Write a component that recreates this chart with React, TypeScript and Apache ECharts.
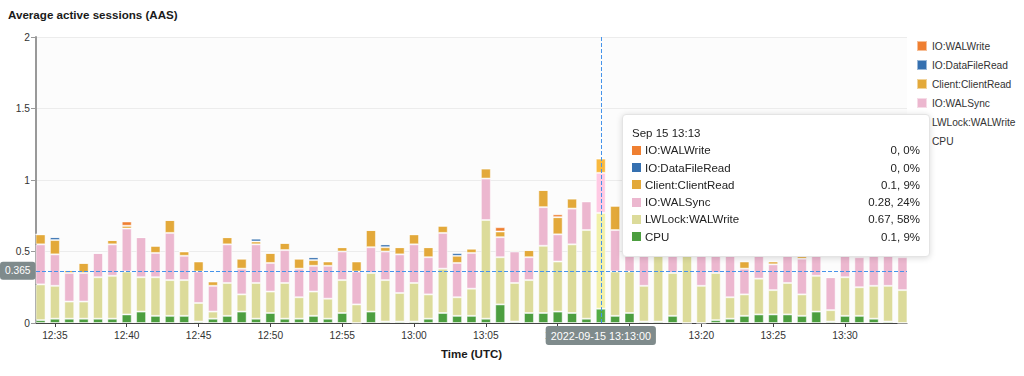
import React, { useEffect, useRef } from 'react';
import * as echarts from 'echarts';

const times = [
  '12:34', '12:35', '12:36', '12:37', '12:38', '12:39', '12:40', '12:41', '12:42', '12:43',
  '12:44', '12:45', '12:46', '12:47', '12:48', '12:49', '12:50', '12:51', '12:52', '12:53',
  '12:54', '12:55', '12:56', '12:57', '12:58', '12:59', '13:00', '13:01', '13:02', '13:03',
  '13:04', '13:05', '13:06', '13:07', '13:08', '13:09', '13:10', '13:11', '13:12', '13:13',
  '13:14', '13:15', '13:16', '13:17', '13:18', '13:19', '13:20', '13:21', '13:22', '13:23',
  '13:24', '13:25', '13:26', '13:27', '13:28', '13:29', '13:30', '13:31', '13:32', '13:33', '13:34',
];

const tickLabels = [
  '12:35', '12:40', '12:45', '12:50', '12:55', '13:00', '13:05', '13:10', '13:15', '13:20', '13:25', '13:30',
];

const cpu = [
  0.02, 0.03, 0.03, 0.03, 0.03, 0.03, 0.06, 0.08, 0.05, 0.05,
  0.05, 0.01, 0.03, 0.05, 0.08, 0.03, 0.07, 0.03, 0.03, 0.05,
  0.03, 0.07, 0, 0.08, 0.01, 0.01, 0.01, 0.03, 0.07, 0.05,
  0.05, 0.03, 0.13, 0.01, 0.07, 0.07, 0.08, 0.07, 0.03, 0.1,
  0.05, 0.07, 0.01, 0.01, 0.05, 0, 0, 0.02, 0.03, 0.05,
  0.06, 0.06, 0.06, 0.05, 0.08, 0.01, 0.05, 0.05, 0.03, 0.01, 0,
];

const lwlockWalWrite = [
  0.25, 0.23, 0.12, 0.12, 0.29, 0.3, 0.3, 0.24, 0.27, 0.25,
  0.25, 0.13, 0.05, 0.23, 0.12, 0.25, 0.15, 0.25, 0.15, 0.17,
  0.14, 0.23, 0.13, 0.27, 0.29, 0.2, 0.27, 0.17, 0.31, 0.13,
  0.19, 0.69, 0.33, 0.27, 0.23, 0.47, 0.35, 0.48, 0.62, 0.67,
  0.31, 0.29, 0.25, 0.52, 0.3, 0.55, 0.26, 0.33, 0.15, 0.15,
  0.25, 0.17, 0.22, 0.15, 0.25, 0.08, 0.27, 0.2, 0.23, 0.25, 0.23,
];

const ioWalSync = [
  0.28, 0.22, 0.2, 0.2, 0.17, 0.22, 0.3, 0.28, 0.17, 0.33,
  0.17, 0.22, 0.18, 0.27, 0.18, 0.27, 0.2, 0.23, 0.2, 0.18,
  0.23, 0.2, 0.23, 0.18, 0.2, 0.27, 0.27, 0.26, 0.25, 0.24,
  0.25, 0.29, 0.14, 0.22, 0.16, 0.27, 0.19, 0.25, 0.2, 0.28,
  0.29, 0.2, 0.3, 0.1, 0.25, 0.08, 0.3, 0.25, 0.35, 0.18,
  0.3, 0.18, 0.2, 0.25, 0.3, 0.23, 0.25, 0.21, 0.28, 0.3, 0.23,
];

const clientRead = [
  0.07, 0.1, 0.02, 0.07, 0, 0.03, 0.02, 0, 0.05, 0.09,
  0.03, 0.07, 0.03, 0.05, 0.07, 0.02, 0.07, 0.05, 0.07, 0.04,
  0.03, 0.03, 0.07, 0.12, 0.03, 0.05, 0.07, 0.07, 0.05, 0.05,
  0.03, 0.07, 0.04, 0.01, 0.05, 0.12, 0.12, 0.07, 0, 0.1,
  0.17, 0.06, 0, 0.02, 0, 0, 0, 0, 0, 0.05,
  0, 0.02, 0.1, 0.08, 0, 0, 0, 0.06, 0, 0, 0.04,
];

const dataFileRead = [
  0, 0.02, 0, 0, 0, 0, 0, 0, 0, 0,
  0, 0, 0, 0, 0, 0.02, 0, 0, 0, 0.02,
  0, 0, 0, 0, 0.02, 0, 0, 0, 0, 0.02,
  0, 0, 0, 0, 0, 0, 0, 0, 0, 0,
  0, 0, 0, 0, 0, 0, 0, 0, 0, 0,
  0, 0, 0, 0, 0, 0, 0, 0, 0, 0, 0,
];

const walWrite = [
  0, 0, 0, 0, 0, 0, 0.03, 0, 0, 0,
  0, 0, 0, 0, 0, 0, 0, 0, 0, 0,
  0, 0, 0, 0, 0, 0, 0, 0, 0, 0,
  0, 0, 0.03, 0, 0, 0, 0.02, 0, 0, 0,
  0, 0, 0, 0, 0, 0, 0, 0, 0, 0,
  0, 0, 0, 0, 0, 0, 0, 0, 0, 0, 0,
];

const seriesNames = ['CPU', 'LWLock:WALWrite', 'IO:WALSync', 'Client:ClientRead', 'IO:DataFileRead', 'IO:WALWrite'];
const seriesColors = ['#4c9e3f', '#dcdb9a', '#ecb7cf', '#e3a93a', '#3570b0', '#ef7f31'];
const seriesValues = [cpu, lwlockWalWrite, ioWalSync, clientRead, dataFileRead, walWrite];

const pointerTime = '13:13';
const pointerValue = 0.365;

const FONT = '"Liberation Sans", Arial, Helvetica, sans-serif';
const POINTER_BLUE = '#4593ea';
const MONTHS = ['Jan', 'Feb', 'Mar', 'Apr', 'May', 'Jun', 'Jul', 'Aug', 'Sep', 'Oct', 'Nov', 'Dec'];
const pad2 = (n: number) => (n < 10 ? '0' + n : '' + n);
const toTs = (t: string) => {
  const [h, m] = t.split(':').map(Number);
  return Date.UTC(2022, 8, 15, h, m);
};

export default function App() {
  const ref = useRef<HTMLDivElement>(null);
  useEffect(() => {
    if (!ref.current) return;
    const chart = echarts.init(ref.current, undefined, { renderer: 'svg' });
    // data items are [value, timestamp]; encode maps the timestamp to x so the stack runs on y
    const series = seriesNames.map((name, si) => ({
      name,
      type: 'bar',
      stack: 'aas',
      barWidth: 10,
      encode: { x: 1, y: 0 },
      itemStyle: { color: seriesColors[si], borderColor: 'rgba(255,255,255,0.5)', borderWidth: 1 },
      data: times.map((t, i) => [seriesValues[si][i], toTs(t)]),
    }));
    const tickValues = tickLabels.map(toTs);
    const pointerLine = () => ({ color: POINTER_BLUE, type: 'dashed', width: 1 });
    chart.setOption({
      animation: false,
      textStyle: { fontFamily: FONT },
      title: {
        text: 'Average active sessions (AAS)',
        left: 3,
        top: 3,
        textStyle: { fontSize: 11.6, fontWeight: 'bold', color: '#1a1a1a', fontFamily: FONT },
      },
      legend: {
        orient: 'vertical',
        left: 911,
        top: 35,
        itemWidth: 10,
        itemHeight: 10,
        itemGap: 7,
        icon: 'rect',
        data: [...seriesNames].reverse(),
        textStyle: { fontSize: 10.2, color: '#333', fontFamily: FONT },
      },
      grid: {
        left: 36,
        right: 117,
        top: 37,
        bottom: 53,
        show: true,
        backgroundColor: '#fcfcfc',
        borderWidth: 0,
      },
      tooltip: {
        trigger: 'axis',
        alwaysShowContent: true,
        position: [622, 114],
        backgroundColor: '#fff',
        borderColor: '#e4e4e4',
        borderWidth: 1,
        padding: [10, 9],
        textStyle: { fontSize: 11.5, color: '#222', fontFamily: FONT },
        extraCssText: 'box-shadow: 0 1px 6px rgba(0,0,0,0.15); border-radius: 4px; width: 288px;',
        axisPointer: {
          type: 'cross',
          lineStyle: pointerLine(),
          crossStyle: pointerLine(),
        },
        formatter: (params: any) => {
          const list = Array.isArray(params) ? params : [params];
          const ts = list[0].value[1];
          const d = new Date(ts);
          const header = `${MONTHS[d.getUTCMonth()]} ${d.getUTCDate()} ${pad2(d.getUTCHours())}:${pad2(d.getUTCMinutes())}`;
          const total = list.reduce((s: number, p: any) => s + (Number(p.value[0]) || 0), 0);
          const rows = [...list].reverse().map((p: any) => {
            const v = Number(p.value[0]) || 0;
            const pct = total > 0 ? Math.round((v / total) * 100) : 0;
            return `<div style="display:flex;justify-content:space-between;line-height:17.3px;height:17.3px;">` +
              `<span><span style="display:inline-block;width:9px;height:9px;background:${p.color};margin-right:4px;vertical-align:-0.5px;"></span>${p.seriesName}</span>` +
              `<span>${v}, ${pct}%</span></div>`;
          }).join('');
          return `<div style="line-height:17.3px;height:17.3px;">${header}</div>${rows}`;
        },
      },
      xAxis: {
        type: 'value',
        min: Date.UTC(2022, 8, 15, 12, 33, 41),
        max: Date.UTC(2022, 8, 15, 13, 34, 19),
        name: 'Time (UTC)',
        nameLocation: 'middle',
        nameGap: 25,
        nameTextStyle: { fontSize: 11.5, fontWeight: 'bold', color: '#1a1a1a', fontFamily: FONT },
        axisLine: { show: true, lineStyle: { color: '#444', width: 1 } },
        axisTick: { show: true, length: 4, lineStyle: { color: '#444' }, customValues: tickValues },
        axisLabel: {
          fontSize: 10.2,
          color: '#333',
          margin: 7,
          customValues: tickValues,
          formatter: (v: number) => {
            const d = new Date(v);
            return `${pad2(d.getUTCHours())}:${pad2(d.getUTCMinutes())}`;
          },
        },
        splitLine: { show: false },
        axisPointer: {
          lineStyle: pointerLine(),
          label: {
            backgroundColor: '#7f8b8c',
            color: '#fff',
            fontSize: 10.8,
            padding: [4, 5],
            borderRadius: 3,
            formatter: (p: any) => {
              const d = new Date(Number(p.value));
              return `${d.getUTCFullYear()}-${pad2(d.getUTCMonth() + 1)}-${pad2(d.getUTCDate())} ${pad2(d.getUTCHours())}:${pad2(d.getUTCMinutes())}:${pad2(d.getUTCSeconds())}`;
            },
          },
        },
      },
      yAxis: {
        type: 'value',
        min: 0,
        max: 2,
        interval: 0.5,
        axisLine: { show: true, lineStyle: { color: '#999', width: 2 } },
        axisTick: { show: true, length: 5, lineStyle: { color: '#999' } },
        axisLabel: { fontSize: 10.2, color: '#333', margin: 6 },
        splitLine: { show: true, lineStyle: { color: '#ececec' } },
        axisPointer: {
          lineStyle: pointerLine(),
          label: {
            backgroundColor: '#7f8b8c',
            color: '#fff',
            fontSize: 10.2,
            padding: [4, 5],
            borderRadius: 3,
            formatter: (p: any) => Number(p.value).toFixed(3),
          },
        },
      },
      series,
    });
    const px = chart.convertToPixel({ gridIndex: 0 }, [toTs(pointerTime), pointerValue]) as number[];
    chart.dispatchAction({ type: 'showTip', x: px[0], y: px[1] });
    return () => chart.dispose();
  }, []);
  return <div ref={ref} style={{ position: 'absolute', left: 0, top: 0, width: 1024, height: 376 }} />;
}
